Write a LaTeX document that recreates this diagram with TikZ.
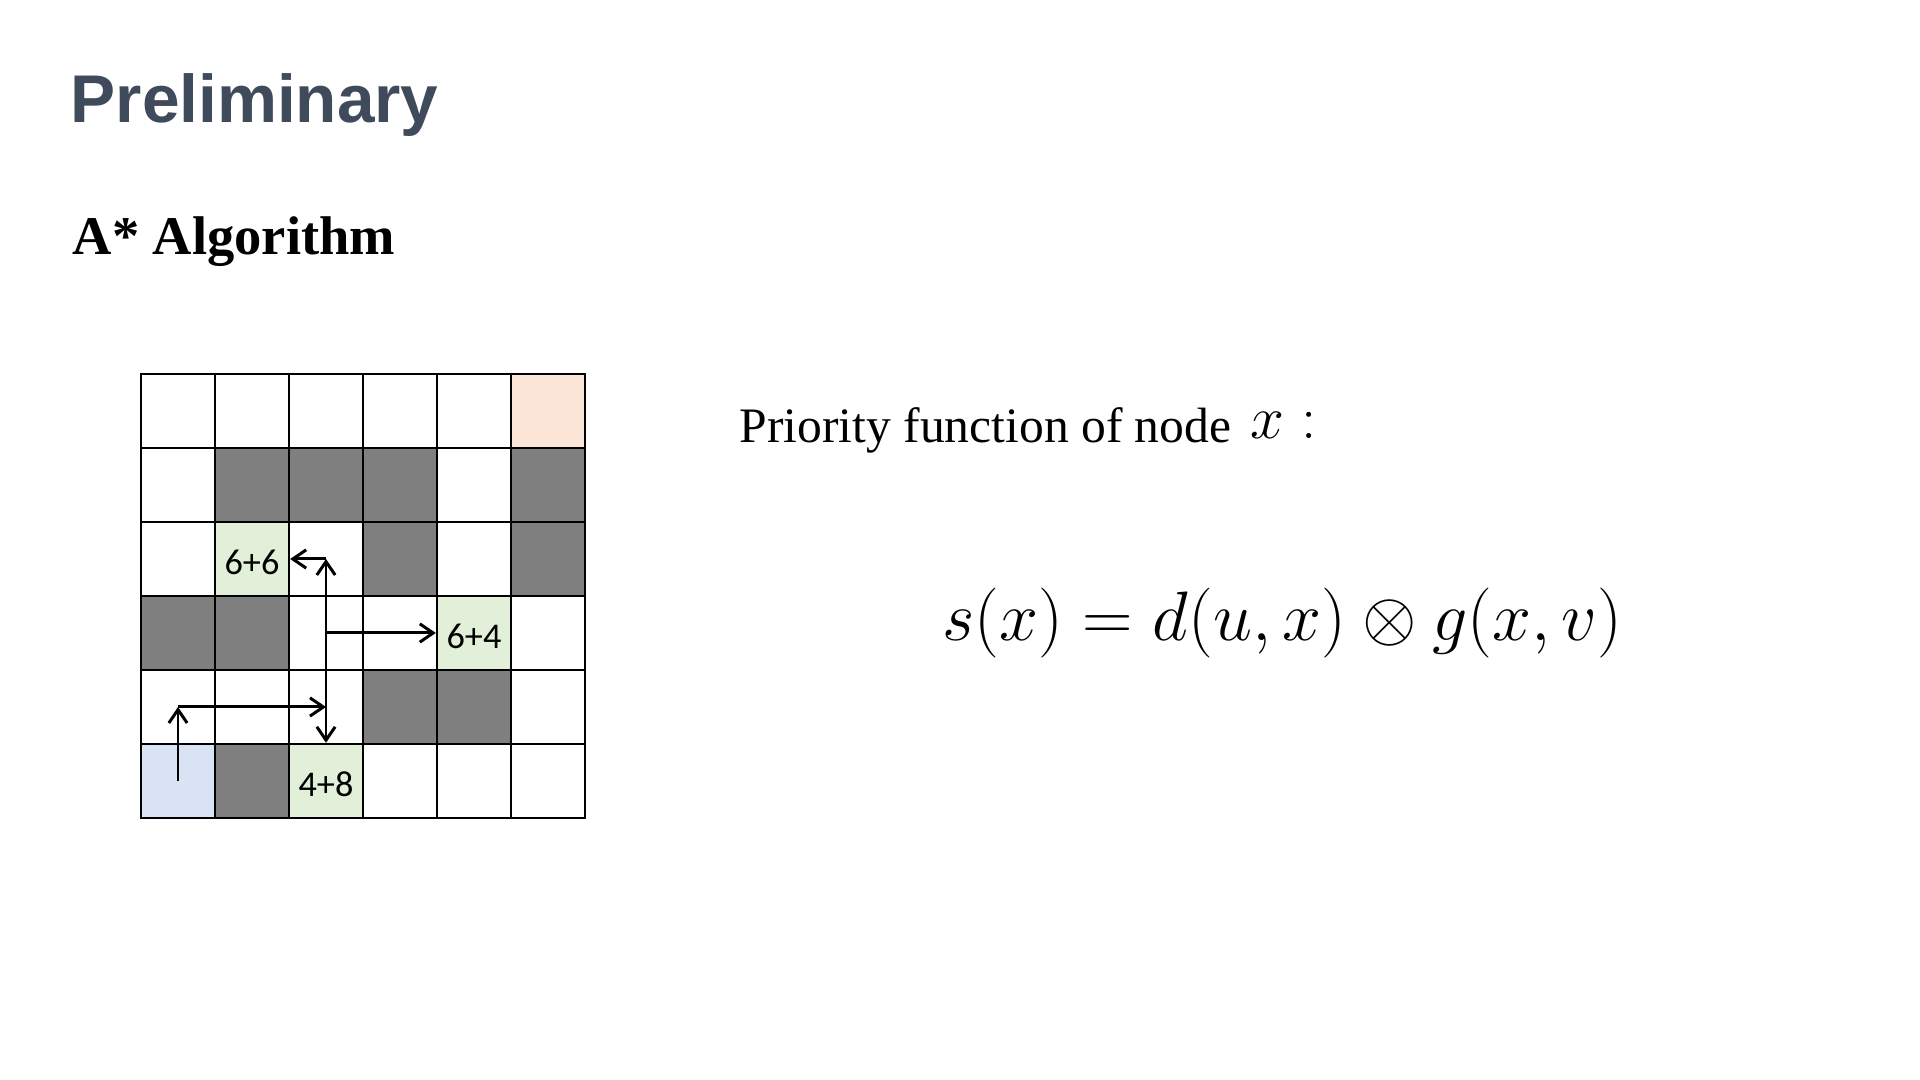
\RequirePackage{fix-cm}
\documentclass[tikz,border=0pt]{standalone}
\usepackage[no-math]{fontspec}
\setmainfont{Liberation Serif}
\newfontfamily\titlefont{Liberation Sans}
\newfontfamily\cellfont{Carlito}
\usetikzlibrary{arrows.meta,backgrounds}
\definecolor{titlegray}{HTML}{3F4A5B}
\definecolor{wallgray}{HTML}{7F7F7F}
\definecolor{goalpeach}{HTML}{FBE5D6}
\definecolor{openlime}{HTML}{E2F0D9}
\definecolor{startblue}{HTML}{DAE3F3}
\tikzset{
  cell/.style={draw, line width=0.65pt, minimum size=0.74cm, inner sep=0pt},
  celltext/.style={font=\cellfont\fontsize{10.3}{12}\selectfont, inner sep=0pt, yshift=-1pt},
  expand/.style={-{Straight Barb[length=3.8pt,width=5.2pt]}, line width=0.85pt},
  twoway/.style={{Straight Barb[length=3.8pt,width=5.2pt]}-{Straight Barb[length=3.8pt,width=5.2pt]}, line width=0.85pt}
}

\begin{document}
\begin{tikzpicture}[x=0.01cm,y=-0.01cm]
        \useasboundingbox (0,0) rectangle (1920,1080);
        \node[anchor=base west, inner sep=0pt, text=titlegray,
              font=\titlefont\bfseries\fontsize{19.2}{23}\selectfont] (title) at (70,123) {Preliminary};
        \node[anchor=base west, inner sep=0pt,
              font=\bfseries\fontsize{15.5}{18}\selectfont] (algo) at (72,255) {A* Algorithm};
        % the grid
        \foreach \x in {0,...,5} {
            \foreach \y in {0,...,5} {
                \node[cell] (C\x\y) at ({178+74*\x},{411+74*\y}) {};
            }
        }
        \begin{scope}[on background layer]
            \foreach \c in {11,21,31,51,32,52,03,13,34,44,15}
                \fill[wallgray] (C\c.south west) rectangle (C\c.north east);
            \foreach \c in {12,43,25}
                \fill[openlime] (C\c.south west) rectangle (C\c.north east);
            \fill[goalpeach] (C50.south west) rectangle (C50.north east);
            \fill[startblue] (C05.south west) rectangle (C05.north east);
        \end{scope}
        \node[celltext] (T12) at (C12) {6+6};
        \node[celltext] (T43) at (C43) {6+4};
        \node[celltext] (T25) at (C25) {4+8};
        % search steps
        \draw[expand] (C05.center) -- (C04.center);
        \draw[expand] (C04.center) -- (C24.center);
        \draw[twoway] (C22.center) -- (C25.north);
        \draw[expand] (C22.center) -- (C12.east);
        \draw[expand] (C23.center) -- (C43.west);
        % priority
        \node[anchor=base west, inner sep=0pt,
              font=\fontsize{14.1}{17}\selectfont] (prio) at (739,443) {Priority function of node};
        \node[anchor=base west, inner sep=0pt,
              font=\fontsize{17.3}{21}\selectfont] (var) at (1250,439) {$x :$};
        \node[anchor=base west, inner sep=0pt,
              font=\fontsize{19.9}{24}\selectfont] (score) at (942,641) {$s(x) = d(u,x)\otimes g(x,v)$};
    \end{tikzpicture}
\end{document}
